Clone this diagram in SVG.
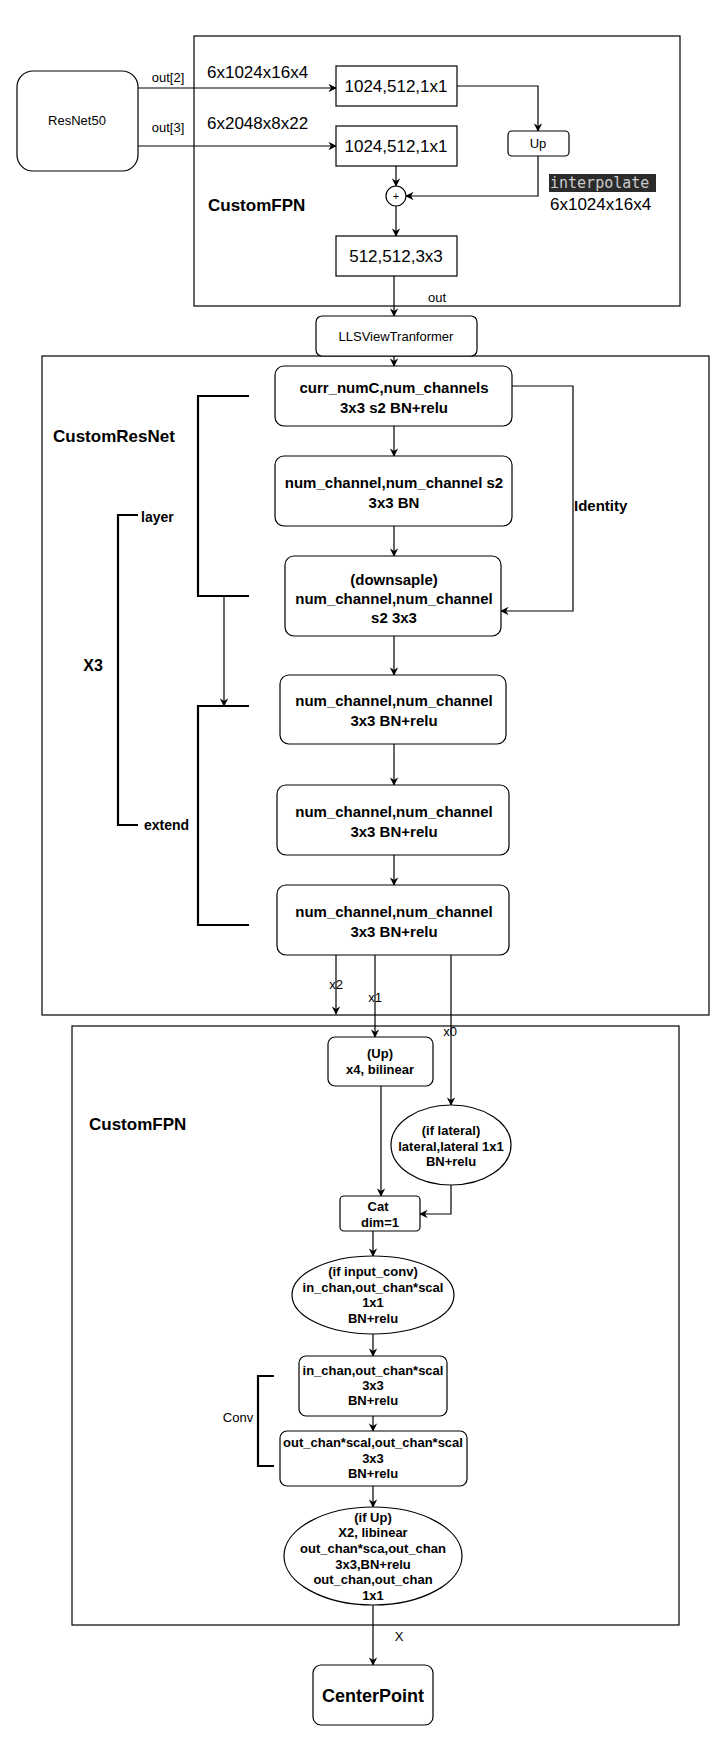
<svg xmlns="http://www.w3.org/2000/svg" width="718" height="1743" viewBox="0 0 718 1743">
<defs>
<marker id="a" viewBox="0 0 10 10" refX="9" refY="5" markerWidth="7" markerHeight="7" orient="auto"><path d="M0,0 L10,5 L0,10 L3,5 z" fill="#000"/></marker>
<style>
text{font-family:"Liberation Sans",Arial,sans-serif;fill:#000;text-anchor:middle}
.n{fill:#fff;stroke:#000;stroke-width:1.2}
.c{fill:none;stroke:#000;stroke-width:1.2}
.ca{fill:none;stroke:#000;stroke-width:1.2;marker-end:url(#a)}
.br{fill:none;stroke:#000;stroke-width:2.2}
.b{font-weight:bold;font-size:15px}
.s{font-weight:bold;font-size:13px}
.l{font-size:17px}
.t{font-size:13px}
.g{font-weight:bold;font-size:17px;text-anchor:start}
</style>
</defs>
<g id="containers">
<rect x="194" y="36" width="486" height="270" class="c"/>
<rect x="42" y="356" width="667" height="659" class="c"/>
<rect x="72" y="1026" width="607" height="599" class="c"/>
<text x="208" y="211" class="g">CustomFPN</text>
<text x="53" y="442" class="g">CustomResNet</text>
<text x="89" y="1130" class="g">CustomFPN</text>
</g>
<g id="connectors">
<path d="M138,88 H336" class="ca"/>
<path d="M138,146 H336" class="ca"/>
<path d="M457,86 H538 V131" class="ca"/>
<path d="M538,156 V196 H406" class="ca"/>
<path d="M396,166 V186" class="ca"/>
<path d="M396,206 V236" class="ca"/>
<path d="M394,276 V316" class="ca"/>
<path d="M394,356 V366" class="ca"/>
<path d="M394,426 V456" class="ca"/>
<path d="M394,526 V556" class="ca"/>
<path d="M394,636 V675" class="ca"/>
<path d="M394,744 V785" class="ca"/>
<path d="M394,855 V885" class="ca"/>
<path d="M512,386 H573 V611 H501" class="ca"/>
<path d="M224,596 V706" class="ca"/>
<path d="M336,955 V1014" class="ca"/>
<path d="M375,955 V1037" class="ca"/>
<path d="M451,955 V1105" class="ca"/>
<path d="M381,1086 V1196" class="ca"/>
<path d="M451,1185 V1214 H420" class="ca"/>
<path d="M373,1231 V1256" class="ca"/>
<path d="M373,1334 V1356" class="ca"/>
<path d="M373,1416 V1431" class="ca"/>
<path d="M373,1486 V1507" class="ca"/>
<path d="M373,1605 V1665" class="ca"/>
<path d="M249,396 H198 V596 H249" class="br"/>
<path d="M249,706 H198 V925 H249" class="br"/>
<path d="M138,515 H118 V825 H138" class="br"/>
<path d="M274,1376 H258 V1466 H274" class="br"/>
<text x="168" y="82" class="t">out[2]</text>
<text x="168" y="132" class="t">out[3]</text>
<text x="207" y="78" class="l" style="text-anchor:start">6x1024x16x4</text>
<text x="207" y="129" class="l" style="text-anchor:start">6x2048x8x22</text>
<rect x="549" y="174" width="107" height="18" fill="#2b2b2b"/>
<text x="550" y="188" style="font-family:'DejaVu Sans Mono',monospace;font-size:15px;fill:#ccc;text-anchor:start">interpolate</text>
<text x="550" y="210" class="l" style="text-anchor:start">6x1024x16x4</text>
<text x="437" y="302" class="t">out</text>
<text x="574" y="511" class="g" style="font-size:15px">Identity</text>
<text x="141" y="522" class="b" style="text-anchor:start;font-size:14px">layer</text>
<text x="144" y="830" class="b" style="text-anchor:start;font-size:14px">extend</text>
<text x="93" y="671" class="b" style="font-size:16px">X3</text>
<text x="336" y="989" class="t">x2</text>
<text x="375" y="1002" class="t">x1</text>
<text x="450" y="1036" class="t">x0</text>
<text x="238" y="1422" class="t">Conv</text>
<text x="399" y="1641" class="t">X</text>
</g>
<g id="resnet50"><rect x="17" y="71" width="121" height="100" rx="16" class="n"/><text x="77" y="125" class="t">ResNet50</text></g>
<g id="conv1"><rect x="336" y="66" width="121" height="40" class="n"/><text x="396" y="92" class="l">1024,512,1x1</text></g>
<g id="conv2"><rect x="336" y="126" width="121" height="40" class="n"/><text x="396" y="152" class="l">1024,512,1x1</text></g>
<g id="up"><rect x="508" y="131" width="61" height="25" rx="4" class="n"/><text x="538" y="148" class="t">Up</text></g>
<g id="plus"><circle cx="396" cy="196" r="10" class="n"/><text x="396" y="200" style="font-size:11px">+</text></g>
<g id="conv3"><rect x="336" y="236" width="121" height="40" class="n"/><text x="396" y="262" class="l">512,512,3x3</text></g>
<g id="lls"><rect x="316" y="316" width="161" height="40" rx="6" class="n"/><text x="396" y="341" class="t">LLSViewTranformer</text></g>
<g id="boxA"><rect x="275" y="366" width="237" height="60" rx="9" class="n"/><text x="394" y="393" class="b">curr_numC,num_channels</text><text x="394" y="413" class="b">3x3 s2 BN+relu</text></g>
<g id="boxB"><rect x="275" y="456" width="237" height="70" rx="9" class="n"/><text x="394" y="488" class="b">num_channel,num_channel s2</text><text x="394" y="508" class="b">3x3 BN</text></g>
<g id="boxC"><rect x="285" y="556" width="216" height="80" rx="9" class="n"/><text x="394" y="585" class="b">(downsaple)</text><text x="394" y="604" class="b">num_channel,num_channel</text><text x="394" y="623" class="b">s2 3x3</text></g>
<g id="boxD"><rect x="280" y="675" width="226" height="69" rx="9" class="n"/><text x="394" y="706" class="b">num_channel,num_channel</text><text x="394" y="726" class="b">3x3  BN+relu</text></g>
<g id="boxE"><rect x="277" y="785" width="232" height="70" rx="9" class="n"/><text x="394" y="817" class="b">num_channel,num_channel</text><text x="394" y="837" class="b">3x3  BN+relu</text></g>
<g id="boxF"><rect x="277" y="885" width="232" height="70" rx="9" class="n"/><text x="394" y="917" class="b">num_channel,num_channel</text><text x="394" y="937" class="b">3x3  BN+relu</text></g>
<g id="up2"><rect x="328" y="1037" width="105" height="49" rx="7" class="n"/><text x="380" y="1058" class="s">(Up)</text><text x="380" y="1074" class="s">x4, bilinear</text></g>
<g id="lateral"><ellipse cx="451" cy="1145" rx="60" ry="40" class="n"/><text x="451" y="1135" class="s">(if lateral)</text><text x="451" y="1151" class="s">lateral,lateral 1x1</text><text x="451" y="1166" class="s">BN+relu</text></g>
<g id="cat"><rect x="340" y="1196" width="80" height="35" rx="4" class="n"/><text x="378" y="1211" class="s">Cat</text><text x="380" y="1227" class="s">dim=1</text></g>
<g id="inputconv"><ellipse cx="373" cy="1295" rx="81" ry="39" class="n"/><text x="373" y="1276" class="s">(if input_conv)</text><text x="373" y="1292" class="s">in_chan,out_chan*scal</text><text x="373" y="1307" class="s">1x1</text><text x="373" y="1323" class="s">BN+relu</text></g>
<g id="convG"><rect x="299" y="1356" width="148" height="60" rx="7" class="n"/><text x="373" y="1375" class="s">in_chan,out_chan*scal</text><text x="373" y="1390" class="s">3x3</text><text x="373" y="1405" class="s">BN+relu</text></g>
<g id="convH"><rect x="280" y="1431" width="187" height="55" rx="7" class="n"/><text x="373" y="1447" class="s">out_chan*scal,out_chan*scal</text><text x="373" y="1463" class="s">3x3</text><text x="373" y="1478" class="s">BN+relu</text></g>
<g id="ifup"><ellipse cx="373" cy="1556" rx="89" ry="49" class="n"/><text x="373" y="1522" class="s">(if Up)</text><text x="373" y="1537" class="s">X2, libinear</text><text x="373" y="1553" class="s">out_chan*sca,out_chan</text><text x="373" y="1569" class="s">3x3,BN+relu</text><text x="373" y="1584" class="s">out_chan,out_chan</text><text x="373" y="1600" class="s">1x1</text></g>
<g id="centerpoint"><rect x="313" y="1665" width="120" height="60" rx="8" class="n"/><text x="373" y="1702" class="b" style="font-size:18px">CenterPoint</text></g>
</svg>
